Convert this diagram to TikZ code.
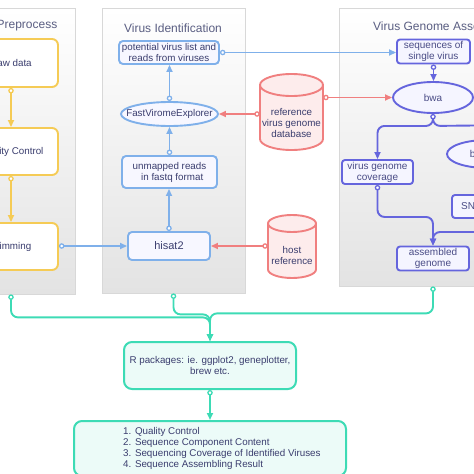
\documentclass[tikz,border=0pt]{standalone}
\usepackage{fontspec}
\setmainfont{Liberation Sans}
\usetikzlibrary{arrows.meta,shapes.geometric}
\definecolor{ycol}{HTML}{F5CB55}
\definecolor{bcol}{HTML}{7FB0EA}
\definecolor{rcol}{HTML}{F07F7F}
\definecolor{pcol}{HTML}{6565DD}
\definecolor{tcol}{HTML}{3DDBB5}
\definecolor{txtc}{HTML}{3A3D6E}
\definecolor{ptxt}{HTML}{4A4C86}
\definecolor{ttlc}{HTML}{5A5E82}
\definecolor{pnlb}{HTML}{D8D8D8}
\definecolor{rfill}{HTML}{FDECEC}
\newcommand\drawcyl[5]{% cx, top, half width, bottom, ry
  \pgfmathsetmacro\cxl{#1-#3}\pgfmathsetmacro\cxr{#1+#3}%
  \pgfmathsetmacro\ctc{#2+#5}\pgfmathsetmacro\cbc{#4-#5}%
  \pgfmathsetmacro\kx{0.5523*#3}\pgfmathsetmacro\ky{0.5523*#5}%
  \filldraw[cylsty] (\cxl,\ctc) -- (\cxl,\cbc) .. controls (\cxl,\cbc+\ky) and (#1-\kx,#4) .. (#1,#4) .. controls (#1+\kx,#4) and (\cxr,\cbc+\ky) .. (\cxr,\cbc) -- (\cxr,\ctc) -- cycle;
  \filldraw[cylsty] (#1,\ctc) ellipse [x radius=#3, y radius=#5];
}
\tikzset{
 panel/.style={draw=pnlb, line width=0.8pt, top color=white, bottom color=black!11, inner sep=0pt},
 ttl/.style={font=\fontsize{12}{14}\selectfont, text=ttlc, inner sep=0pt},
 base/.style={font=\fontsize{9.8}{11}\selectfont, text=txtc, align=center, inner sep=0pt},
 ybox/.style={base, draw=ycol, line width=1.9pt, rounded corners=6pt, fill=white},
 bbox/.style={base, draw=bcol, line width=1.9pt, rounded corners=4pt, fill=blue!3},
 pbox/.style={base, font=\fontsize{10}{11}\selectfont, text=ptxt, draw=pcol, line width=1.9pt, rounded corners=3pt, fill=blue!4},
 tbox/.style={base, draw=tcol, line width=2pt, rounded corners=8pt, fill=tcol!10},
 bell/.style={base, ellipse, draw=bcol, line width=1.9pt, fill=blue!3},
 pell/.style={base, font=\fontsize{10}{11}\selectfont, text=ptxt, ellipse, draw=pcol, line width=1.9pt, fill=blue!4},
 cylsty/.style={draw=rcol, line width=1.9pt, fill=rfill},
 cylarea/.style={inner sep=0pt},
 conn/.style={line width=1.9pt, rounded corners=7pt,
   {Circle[open,length=5.5pt,width=5.5pt,fill=white,line width=1.3pt]}-{Triangle[length=7pt,width=6pt]}},
 yconn/.style={conn, draw=ycol},
 bconn/.style={conn, draw=bcol},
 rconn/.style={conn, draw=rcol},
 pconn/.style={conn, draw=pcol},
 tconn/.style={conn, draw=tcol},
 pline/.style={draw=pcol, line width=1.9pt, rounded corners=7pt},
}
\begin{document}
\begin{tikzpicture}[x=1pt,y=-1pt]
\useasboundingbox (0,0) rectangle (474,474);
\clip (0,0) rectangle (474,474);
% panels
\node[panel, minimum width=100, minimum height=286] (p1) at (25,151) {};
\node[panel, minimum width=143, minimum height=285] (p2) at (173.5,150.5) {};
\node[panel, minimum width=221, minimum height=278] (p3) at (449.5,147) {};
\node[ttl] (t1) at (27,26) {Preprocess};
\node[ttl] (t2) at (173,28) {Virus Identification};
\node[ttl, anchor=west] (t3) at (373,27) {Virus Genome Assembly};
% preprocess
\node[ybox, minimum width=94, minimum height=48] (raw) at (11,63) {Raw data};
\node[ybox, minimum width=94, minimum height=47] (qc) at (11,151.5) {Quality Control};
\node[ybox, minimum width=94, minimum height=47] (trim) at (11,246.5) {Trimming};
% virus identification
\node[bbox, minimum width=100, minimum height=23] (pot) at (169,52.5) {potential virus list and\\reads from viruses};
\node[bell, minimum width=97, minimum height=24] (fve) at (169.5,114) {\makebox[0pt]{FastViromeExplorer}};
\node[bbox, minimum width=95, minimum height=32] (unm) at (169.5,172) {unmapped reads\\\ \ in fastq format};
\node[bbox, font=\fontsize{11}{12}\selectfont, minimum width=82, minimum height=28] (his) at (169,246) {hisat2};
% cylinders
\drawcyl{291.5}{74}{31.5}{150}{11}
\node[cylarea, minimum width=63, minimum height=76] (refdb) at (291.5,112) {};
\node[base] (refdbt) at (291.5,122.5) {reference\\virus genome\\database};
\drawcyl{292}{215}{24}{278}{8.5}
\node[cylarea, minimum width=48, minimum height=63] (host) at (292,246.5) {};
\node[base] (hostt) at (292,255.5) {host\\reference};
% genome assembly
\node[pbox, minimum width=73, minimum height=24] (seqs) at (433.5,51.5) {sequences of\\single virus};
\node[pell, minimum width=80, minimum height=31] (bwa) at (433,97.5) {\makebox[0pt]{bwa}};
\node[pbox, minimum width=71, minimum height=24] (cov) at (377.5,172) {virus genome\\coverage};
\node[pell, minimum width=80, minimum height=28] (bcf) at (487,154) {\makebox[0pt]{bcftools}};
\node[pbox, minimum width=70, minimum height=23] (snp) at (487,206.5) {SNP calling};
\node[pbox, minimum width=72, minimum height=24] (asm) at (433,258.5) {assembled\\genome};
\coordinate (offr1) at (520,125);
\coordinate (offr2) at (520,232);
% bottom
\node[tbox, minimum width=172, minimum height=47] (rp) at (210,365.5) {R packages: ie. ggplot2, geneplotter,\\brew etc.};
\node[tbox, minimum width=272, minimum height=55] (res) at (210,448.5) {};
\node[base, anchor=west, align=left] (rest) at (123,448.5) {1. Quality Control\\2. Sequence Component Content\\3. Sequencing Coverage of Identified Viruses\\4. Sequence Assembling Result};
% connectors
\draw[yconn] (raw.south) -- (qc.north);
\draw[yconn] (qc.south) -- (trim.north);
\draw[bconn] (trim.east |- his.west) -- (his.west);
\draw[bconn] (his.north) -- (his.north |- unm.south);
\draw[bconn] (unm.north) -- (unm.north |- fve.south);
\draw[bconn] (fve.north) -- (fve.north |- pot.south);
\draw[bconn] (pot.east) -- (pot.east -| seqs.west);
\draw[rconn] (fve.east -| refdb.west) -- (fve.east);
\draw[rconn] (bwa.west -| refdb.east) -- (bwa.west);
\draw[rconn] (his.east -| host.west) -- (his.east);
\draw[pconn] (seqs.south) -- (seqs.south |- bwa.north);
\draw[pline] (bwa.south) -- ++(0,12) -- (offr1);
\draw[pconn] (bwa.south) -- ++(0,12) -| (cov.north);
\draw[pconn] (cov.south) -- ++(0,32) -| (asm.north);
\draw[pline, -{Triangle[length=7pt,width=6pt]}] (offr2) -| (asm.north);
\draw[tconn] (p1.south -| raw.south) -- ++(0,23) -| (rp.north);
\draw[tconn] (p2.south) -- ++(0,21) -| (rp.north);
\draw[tconn] (p3.south -| asm.south) -- ++(0,27) -| (rp.north);
\draw[tconn] (rp.south) -- (res.north);
\end{tikzpicture}
\end{document}
